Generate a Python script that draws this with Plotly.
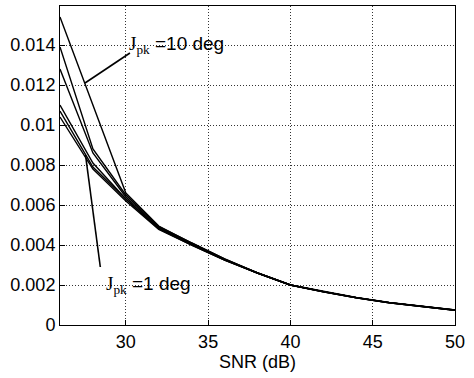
import plotly.graph_objects as go

snr = [26, 28, 30, 32, 34, 36, 38, 40, 42, 44, 46, 48, 50]

series = {
    "10 deg": [0.0154, 0.0110, 0.0066, 0.00495, 0.0041, 0.0033, 0.0026, 0.0020, 0.00168, 0.00138, 0.00113, 0.00093, 0.00075],
    "8 deg":  [0.0139, 0.0088, 0.0065, 0.00492, 0.0041, 0.0033, 0.0026, 0.0020, 0.00167, 0.00137, 0.00112, 0.00092, 0.00075],
    "6 deg":  [0.0128, 0.0086, 0.0064, 0.00488, 0.00405, 0.00328, 0.0026, 0.0020, 0.00167, 0.00137, 0.00112, 0.00092, 0.00075],
    "4 deg":  [0.0110, 0.0081, 0.0063, 0.00484, 0.00403, 0.00326, 0.0026, 0.0020, 0.00166, 0.00136, 0.00111, 0.00091, 0.00074],
    "2 deg":  [0.0107, 0.0079, 0.0063, 0.00480, 0.0040, 0.00325, 0.0026, 0.0020, 0.00166, 0.00136, 0.00111, 0.00091, 0.00074],
    "1 deg":  [0.0104, 0.0078, 0.0062, 0.00478, 0.0040, 0.00324, 0.0026, 0.0020, 0.00166, 0.00136, 0.00111, 0.00091, 0.00074],
}

x_ticks = [30, 35, 40, 45, 50]
y_ticks = [0, 0.002, 0.004, 0.006, 0.008, 0.01, 0.012, 0.014]
y_tick_text = ["0", "0.002", "0.004", "0.006", "0.008", "0.01", "0.012", "0.014"]

# annotation anchors (data coordinates)
lbl_hi = dict(text_x=30.05, text_y=0.0140, tip_x=27.52, tip_y=0.0121, base_x=30.25, base_y=0.0136)
lbl_lo = dict(text_x=28.7, text_y=0.0020, tip_x=27.55, tip_y=0.0085, base_x=28.45, base_y=0.0029)

fig = go.Figure()
for name, vals in series.items():
    fig.add_trace(go.Scatter(x=snr, y=vals, mode="lines", name=name,
                             line=dict(color="black", width=1.4), showlegend=False))

FONT = "Liberation Sans, Arial, sans-serif"
SERIF = "Liberation Serif, Times New Roman, serif"

for lab, txt in [(lbl_hi, "10 deg"), (lbl_lo, "1 deg")]:
    fig.add_shape(type="line", x0=lab["tip_x"], y0=lab["tip_y"], x1=lab["base_x"], y1=lab["base_y"],
                  xref="x", yref="y", line=dict(color="black", width=1.6))
    fig.add_annotation(x=lab["text_x"], y=lab["text_y"], xref="x", yref="y",
                       xanchor="left", yanchor="middle", showarrow=False,
                       text=f"<span style='font-family:{SERIF};color:black'>J<sub>pk</sub></span> ={txt}",
                       font=dict(family=FONT, size=19, color="black"))

axis_common = dict(showline=True, linecolor="black", linewidth=1, mirror=True,
                   ticks="inside", ticklen=5, tickcolor="black",
                   showgrid=True, gridcolor="#333", griddash="1px,2px", gridwidth=1,
                   zeroline=False, tickfont=dict(family=FONT, size=18, color="black"))

fig.update_xaxes(range=[26, 50], tickvals=x_ticks,
                 title=dict(text="SNR (dB)", font=dict(family=FONT, size=18, color="black"), standoff=2),
                 **axis_common)
fig.update_yaxes(range=[0, 0.01595], tickvals=y_ticks, ticktext=y_tick_text, **axis_common)

fig.update_layout(width=474, height=378, margin=dict(l=60, r=19, t=6, b=53),
                  plot_bgcolor="white", paper_bgcolor="white")

fig.write_html("out.html", config={"displayModeBar": False},
               post_script="document.body.style.margin='0';document.body.style.padding='0';")
